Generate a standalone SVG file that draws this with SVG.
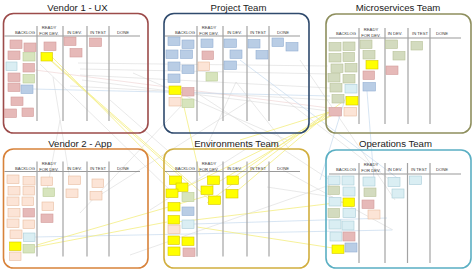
<svg xmlns="http://www.w3.org/2000/svg" width="474" height="274" viewBox="0 0 474 274">
<style>
.t{font-family:"Liberation Sans",Arial,sans-serif;font-size:9.6px;fill:#1a1a1a;text-anchor:middle}
.h{font-family:"Liberation Sans",Arial,sans-serif;font-size:4.2px;fill:#3a3a3a;text-anchor:middle}
.box{fill:none;stroke-width:1.6}
.hl{stroke:#6f6f6f;stroke-width:0.7}
.dv{stroke:#a3a3a3;stroke-width:1.2}
.c{stroke-width:0.6}
.pk{fill:#E6B9B8;stroke:#D39B9A}
.bl{fill:#B9CDE5;stroke:#93AFD2}
.gr{fill:#D7E4BD;stroke:#B9CC95}
.mg{fill:#D3DBBF;stroke:#B7C198}
.ye{fill:#FFFF00;stroke:#D6C600}
.cy{fill:#DAEEF3;stroke:#A8CCD8}
.pe{fill:#FCE4D6;stroke:#E8BC9F}
.lg{stroke:#DADADA;stroke-width:0.6;fill:none}
.ly{stroke:#F4EE80;stroke-width:0.8;fill:none}
.lb{stroke:#C6DAEE;stroke-width:0.7;fill:none}
.lp{stroke:#EFD0D0;stroke-width:0.6;fill:none}
</style>
<rect x="0" y="0" width="474" height="274" fill="#ffffff"/>

<g id="connectors">
<line class="lg" x1="78" y1="63" x2="328" y2="66"/>
<line class="lg" x1="80" y1="69" x2="330" y2="74"/>
<line class="lg" x1="80" y1="75" x2="330" y2="88"/>
<line class="lg" x1="82" y1="80" x2="329" y2="111"/>
<line class="lg" x1="70" y1="86" x2="330" y2="100"/>
<line class="lp" x1="35" y1="70" x2="329" y2="108"/>
<line class="lg" x1="40" y1="64" x2="175" y2="195"/>
<line class="lg" x1="53" y1="77" x2="70" y2="180"/>
<line class="lg" x1="60" y1="120" x2="47" y2="190"/>
<line class="lg" x1="133" y1="73" x2="287" y2="140"/>
<line class="lg" x1="236" y1="82" x2="205" y2="150"/>
<line class="lg" x1="236" y1="82" x2="290" y2="150"/>
<line class="lg" x1="200" y1="95" x2="330" y2="180"/>
<line class="lg" x1="270" y1="88" x2="390" y2="180"/>
<line class="lg" x1="80" y1="213" x2="183" y2="104"/>
<line class="lg" x1="100" y1="195" x2="250" y2="100"/>
<line class="lg" x1="267" y1="187" x2="333" y2="197"/>
<line class="lg" x1="283" y1="170" x2="393" y2="230"/>
<line class="lg" x1="130" y1="255" x2="330" y2="185"/>
<line class="lg" x1="110" y1="100" x2="167" y2="150"/>
<line class="lg" x1="300" y1="60" x2="395" y2="200"/>
<line class="lg" x1="150" y1="210" x2="260" y2="140"/>
<line class="lb" x1="33" y1="89" x2="330" y2="96"/>
<line class="lb" x1="35" y1="237" x2="392" y2="230"/>
<line class="lb" x1="194" y1="224" x2="387" y2="218"/>
<line class="lb" x1="367" y1="91" x2="374" y2="180"/>
<line class="lb" x1="346" y1="96" x2="320" y2="180"/>
<line class="lb" x1="240" y1="60" x2="400" y2="180"/>
<line class="ly" x1="52" y1="57" x2="172" y2="178"/>
<line class="ly" x1="50" y1="60" x2="190" y2="185"/>
<line class="ly" x1="52" y1="61" x2="210" y2="200"/>
<line class="ly" x1="328" y1="112" x2="230" y2="180"/>
<line class="ly" x1="334" y1="113" x2="205" y2="190"/>
<line class="ly" x1="333" y1="115" x2="180" y2="190"/>
<line class="ly" x1="35" y1="247" x2="167" y2="222"/>
<line class="ly" x1="37" y1="245" x2="210" y2="195"/>
<line class="ly" x1="178" y1="222" x2="343" y2="202"/>
<line class="ly" x1="197" y1="227" x2="333" y2="248"/>
<line class="ly" x1="230" y1="197" x2="330" y2="112"/>
<line class="ly" x1="207" y1="203" x2="345" y2="100"/>
<line class="ly" x1="181" y1="94" x2="200" y2="176"/>
<line class="ly" x1="240" y1="140" x2="330" y2="112"/>
</g>

<g id="vendor1-ux">
<text class="t" x="77.5" y="10.5">Vendor 1 - UX</text>
<rect class="box" x="3.5" y="13.5" width="144.5" height="119.5" rx="10" stroke="#9C4B4A"/>
<line class="hl" x1="4.5" y1="36" x2="140" y2="36"/>
<line class="dv" x1="37" y1="26" x2="37" y2="121"/>
<line class="dv" x1="63" y1="26" x2="63" y2="121"/>
<line class="dv" x1="87" y1="26" x2="87" y2="121"/>
<line class="dv" x1="109" y1="26" x2="109" y2="121"/>
<text class="h" x="25" y="34">BACKLOG</text>
<text class="h" x="49" y="29">READY</text>
<text class="h" x="49" y="35">FOR DEV.</text>
<text class="h" x="74.5" y="34">IN DEV.</text>
<text class="h" x="98" y="34">IN TEST</text>
<text class="h" x="123" y="34">DONE</text>
<rect class="c pk" x="10" y="40" width="12" height="8.5"/>
<rect class="c pk" x="24" y="43" width="12" height="8.5"/>
<rect class="c pk" x="8" y="51" width="12" height="8.5"/>
<rect class="c gr" x="23" y="52.5" width="12" height="8.5"/>
<rect class="c cy" x="6" y="62" width="11" height="8.5"/>
<rect class="c pk" x="23" y="63.5" width="11.5" height="8.5"/>
<rect class="c pk" x="8" y="73" width="12" height="8.5"/>
<rect class="c gr" x="23" y="74.5" width="11.5" height="8.5"/>
<rect class="c pk" x="8" y="83" width="12" height="8.5"/>
<rect class="c bl" x="21" y="85" width="12" height="8.5"/>
<rect class="c pk" x="11" y="97" width="12" height="8.5"/>
<rect class="c pk" x="4.5" y="109" width="12" height="8.5"/>
<rect class="c pk" x="22" y="108" width="11.5" height="8.5"/>
<rect class="c pk" x="44" y="42" width="12" height="8.5"/>
<rect class="c ye" x="41" y="52.5" width="11.5" height="8.5"/>
<rect class="c pk" x="64" y="37" width="12" height="8.5"/>
<rect class="c pk" x="70" y="48.5" width="12" height="8.5"/>
<rect class="c pk" x="89.5" y="38" width="12" height="8.5"/>
</g>

<g id="project-team">
<text class="t" x="238.5" y="10.5">Project Team</text>
<rect class="box" x="164" y="13.5" width="145" height="119.5" rx="10" stroke="#2F4A6D"/>
<line class="hl" x1="165" y1="36" x2="300" y2="36"/>
<line class="dv" x1="197" y1="26" x2="197" y2="121"/>
<line class="dv" x1="223" y1="26" x2="223" y2="121"/>
<line class="dv" x1="247" y1="26" x2="247" y2="121"/>
<line class="dv" x1="269" y1="26" x2="269" y2="121"/>
<text class="h" x="185" y="34">BACKLOG</text>
<text class="h" x="209" y="29">READY</text>
<text class="h" x="209" y="35">FOR DEV.</text>
<text class="h" x="234.5" y="34">IN DEV.</text>
<text class="h" x="258" y="34">IN TEST</text>
<text class="h" x="283" y="34">DONE</text>
<rect class="c bl" x="168" y="37" width="12" height="8.5"/>
<rect class="c bl" x="182" y="40" width="12" height="8.5"/>
<rect class="c bl" x="166" y="50" width="12" height="8.5"/>
<rect class="c bl" x="180.5" y="50" width="12" height="8.5"/>
<rect class="c bl" x="168" y="62" width="12" height="8.5"/>
<rect class="c bl" x="182" y="65" width="12" height="8.5"/>
<rect class="c bl" x="168" y="74" width="12" height="8.5"/>
<rect class="c ye" x="169" y="86" width="12" height="8.5"/>
<rect class="c pk" x="182" y="87.5" width="12" height="8.5"/>
<rect class="c pe" x="169" y="97.5" width="12" height="8.5"/>
<rect class="c gr" x="182" y="99" width="12" height="8.5"/>
<rect class="c bl" x="201" y="39" width="12" height="8.5"/>
<rect class="c pk" x="202" y="51" width="11.5" height="8.5"/>
<rect class="c pe" x="198" y="62" width="11.5" height="8.5"/>
<rect class="c gr" x="206" y="72.5" width="11.5" height="8.5"/>
<rect class="c bl" x="224" y="39" width="12.5" height="8.5"/>
<rect class="c bl" x="230" y="50" width="12" height="8.5"/>
<rect class="c bl" x="224" y="61" width="12.5" height="8.5"/>
<rect class="c bl" x="248" y="39.5" width="12" height="8.5"/>
<rect class="c bl" x="256" y="50.5" width="12" height="8.5"/>
<rect class="c bl" x="272" y="38" width="11.5" height="8.5"/>
<rect class="c bl" x="286" y="42.5" width="12" height="8.5"/>
</g>

<g id="microservices-team">
<text class="t" x="398" y="10.5">Microservices Team</text>
<rect class="box" x="326" y="14" width="145" height="119" rx="10" stroke="#8E8F5E"/>
<line class="hl" x1="329" y1="38" x2="461" y2="38"/>
<line class="dv" x1="359" y1="28" x2="359" y2="124"/>
<line class="dv" x1="385" y1="28" x2="385" y2="124"/>
<line class="dv" x1="408" y1="28" x2="408" y2="124"/>
<line class="dv" x1="430" y1="28" x2="430" y2="124"/>
<text class="h" x="346" y="35.3">BACKLOG</text>
<text class="h" x="371" y="31">READY</text>
<text class="h" x="371" y="36.7">FOR DEV.</text>
<text class="h" x="395" y="35.3">IN DEV.</text>
<text class="h" x="420" y="35.3">IN TEST</text>
<text class="h" x="442" y="35.3">DONE</text>
<rect class="c mg" x="329" y="42.5" width="12" height="8.5"/>
<rect class="c mg" x="343" y="42" width="12" height="8.5"/>
<rect class="c mg" x="329" y="53.5" width="12" height="8.5"/>
<rect class="c mg" x="343" y="52.5" width="11.5" height="9"/>
<rect class="c mg" x="331" y="64" width="12" height="8.5"/>
<rect class="c mg" x="345" y="63.5" width="12" height="8.5"/>
<rect class="c mg" x="328" y="73.5" width="12" height="8.5"/>
<rect class="c mg" x="343" y="74.5" width="12" height="8.5"/>
<rect class="c mg" x="330" y="83.5" width="12" height="8.5"/>
<rect class="c cy" x="345" y="84.5" width="12" height="8.5"/>
<rect class="c mg" x="332" y="94.5" width="12" height="8.5"/>
<rect class="c ye" x="346" y="96.5" width="12" height="8.5"/>
<rect class="c pk" x="329" y="107.5" width="12.5" height="8.5"/>
<rect class="c pe" x="344" y="107.5" width="12.5" height="8.5"/>
<rect class="c mg" x="360" y="40" width="12" height="8.5"/>
<rect class="c mg" x="363" y="50.5" width="12" height="8.5"/>
<rect class="c ye" x="366" y="60.5" width="12" height="8.5"/>
<rect class="c pk" x="363" y="71" width="11.5" height="8.5"/>
<rect class="c bl" x="363" y="82.5" width="12.5" height="8.5"/>
<rect class="c mg" x="385.5" y="40" width="12" height="8.5"/>
<rect class="c mg" x="393" y="51.5" width="12" height="8.5"/>
<rect class="c pk" x="386" y="66" width="12" height="8.5"/>
<rect class="c mg" x="411" y="41.5" width="11.5" height="8.5"/>
</g>

<g id="vendor2-app">
<text class="t" x="80" y="146.5">Vendor 2 - App</text>
<rect class="box" x="3.5" y="149" width="144.5" height="119" rx="10" stroke="#D8823A"/>
<line class="hl" x1="4.5" y1="171.5" x2="140" y2="171.5"/>
<line class="dv" x1="37" y1="161.5" x2="37" y2="256.5"/>
<line class="dv" x1="63" y1="161.5" x2="63" y2="256.5"/>
<line class="dv" x1="87" y1="161.5" x2="87" y2="256.5"/>
<line class="dv" x1="109" y1="161.5" x2="109" y2="256.5"/>
<text class="h" x="25" y="169.5">BACKLOG</text>
<text class="h" x="49" y="164.5">READY</text>
<text class="h" x="49" y="170.5">FOR DEV.</text>
<text class="h" x="74.5" y="169.5">IN DEV.</text>
<text class="h" x="98" y="169.5">IN TEST</text>
<text class="h" x="123" y="169.5">DONE</text>
<rect class="c pe" x="7" y="175" width="12" height="8.5"/>
<rect class="c pe" x="23" y="176.5" width="12" height="8.5"/>
<rect class="c pe" x="8" y="186.5" width="12" height="8.5"/>
<rect class="c pe" x="23" y="186.5" width="11.5" height="8.5"/>
<rect class="c pe" x="7" y="197" width="12" height="8.5"/>
<rect class="c pe" x="22" y="197" width="11.5" height="8.5"/>
<rect class="c pe" x="8" y="208.5" width="12" height="8.5"/>
<rect class="c pk" x="23" y="208.5" width="11.5" height="8.5"/>
<rect class="c pe" x="7" y="219" width="12" height="8.5"/>
<rect class="c pe" x="23" y="220" width="11.5" height="8.5"/>
<rect class="c pe" x="10" y="230" width="12" height="8.5"/>
<rect class="c cy" x="23.5" y="233" width="11.5" height="8.5"/>
<rect class="c ye" x="9.5" y="242" width="11.5" height="8.5"/>
<rect class="c gr" x="23" y="244.5" width="11.5" height="8.5"/>
<rect class="c pe" x="9.5" y="252" width="11.5" height="8.5"/>
<rect class="c pe" x="41" y="177" width="11.5" height="8.5"/>
<rect class="c gr" x="43" y="188" width="11.5" height="8.5"/>
<rect class="c pe" x="42" y="202" width="11.5" height="8.5"/>
<rect class="c pk" x="41" y="214" width="12" height="8.5"/>
<rect class="c pe" x="68.5" y="176" width="12" height="8.5"/>
<rect class="c pe" x="66" y="189" width="12" height="8.5"/>
<rect class="c pe" x="92" y="179" width="11.5" height="8.5"/>
<rect class="c pe" x="90" y="191.5" width="12" height="8.5"/>
</g>

<g id="environments-team">
<text class="t" x="236.5" y="146.5">Environments Team</text>
<rect class="box" x="164" y="149" width="145" height="119" rx="10" stroke="#D1AE3E"/>
<line class="hl" x1="165" y1="171.5" x2="300" y2="171.5"/>
<line class="dv" x1="197" y1="161.5" x2="197" y2="256.5"/>
<line class="dv" x1="223" y1="161.5" x2="223" y2="256.5"/>
<line class="dv" x1="247" y1="161.5" x2="247" y2="256.5"/>
<line class="dv" x1="269" y1="161.5" x2="269" y2="256.5"/>
<text class="h" x="185" y="169.5">BACKLOG</text>
<text class="h" x="209" y="164.5">READY</text>
<text class="h" x="209" y="170.5">FOR DEV.</text>
<text class="h" x="234.5" y="169.5">IN DEV.</text>
<text class="h" x="258" y="169.5">IN TEST</text>
<text class="h" x="283" y="169.5">DONE</text>
<rect class="c ye" x="169.5" y="176" width="12" height="8.5"/>
<rect class="c ye" x="176" y="183" width="12" height="8.5"/>
<rect class="c ye" x="166" y="189" width="12" height="8.5"/>
<rect class="c gr" x="182" y="192.5" width="12" height="9"/>
<rect class="c ye" x="168" y="202.5" width="12" height="8.5"/>
<rect class="c bl" x="182" y="207" width="12" height="8.5"/>
<rect class="c ye" x="168" y="215.5" width="11.5" height="8.5"/>
<rect class="c cy" x="182" y="220" width="12" height="8.5"/>
<rect class="c pe" x="168" y="225" width="12" height="8.5"/>
<rect class="c ye" x="168" y="236" width="11.5" height="8.5"/>
<rect class="c ye" x="182" y="237" width="12" height="8.5"/>
<rect class="c ye" x="168" y="247" width="12" height="8.5"/>
<rect class="c pk" x="183" y="248" width="12" height="8.5"/>
<rect class="c ye" x="207.5" y="176" width="12" height="8.5"/>
<rect class="c ye" x="201" y="186" width="12" height="8.5"/>
<rect class="c ye" x="208.5" y="196" width="12" height="8.5"/>
<rect class="c ye" x="227" y="176" width="11.5" height="8.5"/>
<rect class="c ye" x="226" y="189.5" width="12" height="8.5"/>
</g>

<g id="operations-team">
<text class="t" x="395.5" y="146.5">Operations Team</text>
<rect class="box" x="326" y="150" width="145" height="118" rx="10" stroke="#5AAFC3"/>
<line class="hl" x1="329" y1="174" x2="461" y2="174"/>
<line class="dv" x1="359" y1="163" x2="359" y2="263"/>
<line class="dv" x1="385" y1="163" x2="385" y2="263"/>
<line class="dv" x1="407.5" y1="163" x2="407.5" y2="263"/>
<line class="dv" x1="430" y1="163" x2="430" y2="263"/>
<text class="h" x="346" y="170.5">BACKLOG</text>
<text class="h" x="371" y="165.5">READY</text>
<text class="h" x="371" y="171.5">FOR DEV.</text>
<text class="h" x="395" y="170.5">IN DEV.</text>
<text class="h" x="419" y="170.5">IN TEST</text>
<text class="h" x="442" y="170.5">DONE</text>
<rect class="c cy" x="328" y="176" width="12" height="8.5"/>
<rect class="c cy" x="342" y="176" width="12" height="9"/>
<rect class="c mg" x="328" y="186" width="11.5" height="8.5"/>
<rect class="c cy" x="343" y="187" width="12" height="9"/>
<rect class="c cy" x="329" y="197.5" width="12" height="8.5"/>
<rect class="c ye" x="343" y="198" width="11.5" height="8.5"/>
<rect class="c mg" x="328" y="208.5" width="11.5" height="9"/>
<rect class="c cy" x="343" y="208.5" width="12.5" height="9"/>
<rect class="c cy" x="329" y="220" width="12" height="9"/>
<rect class="c cy" x="342" y="221" width="12" height="9"/>
<rect class="c cy" x="330" y="232" width="12" height="9"/>
<rect class="c pk" x="343" y="232" width="12" height="9"/>
<rect class="c ye" x="332" y="245" width="12" height="8.5"/>
<rect class="c bl" x="345" y="243" width="12" height="9"/>
<rect class="c cy" x="363" y="177" width="12" height="9"/>
<rect class="c mg" x="364" y="188" width="12" height="8.5"/>
<rect class="c pk" x="362" y="200" width="12" height="8.5"/>
<rect class="c pe" x="368" y="210" width="12" height="9"/>
<rect class="c cy" x="388" y="177.5" width="12" height="9"/>
<rect class="c cy" x="392" y="189" width="12" height="9"/>
<rect class="c cy" x="409.5" y="176" width="12" height="8.5"/>
</g>
</svg>
